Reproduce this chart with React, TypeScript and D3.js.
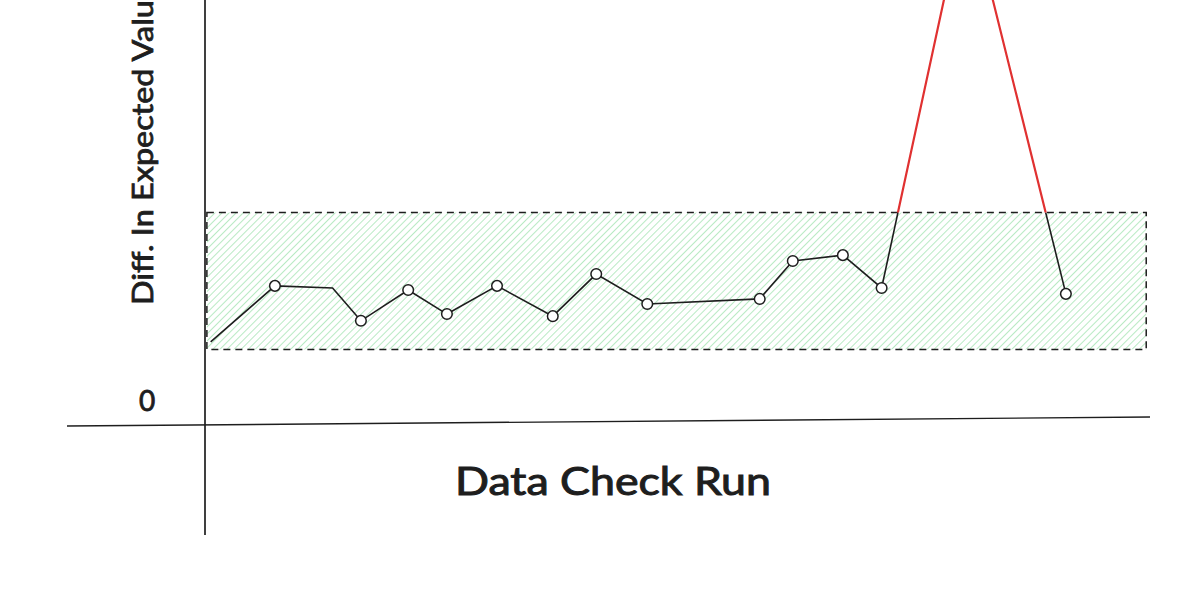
import React from "react";
import * as d3 from "d3";

// Run position (x) and difference from expected value (y) for each data check.
const runs = [0.6, 7.4, 13.5, 16.5, 21.5, 25.6, 30.9, 36.8, 41.4, 46.8, 58.7, 62.2, 67.5, 71.6, 80.6, 91.1];
const diffs = [18.8, 32.1, 31.6, 23.8, 31.1, 25.4, 32.1, 24.9, 34.9, 27.8, 29.0, 38.0, 39.4, 31.6, 125, 30.2];
// Which runs get a point marker.
const marked = [false, true, false, true, true, true, true, true, true, true, true, true, true, true, false, true];

// Expected range (tolerance band).
const bandLow = 17;
const bandHigh = 49.5;
const bandStart = 0.2;
const bandEnd = 99.6;

const yTicks = [0];
const xTitle = "Data Check Run";
const yTitle = "Diff. In Expected Value";

const W = 1200;
const H = 600;
const FONT = "Lato, 'Noto Sans', sans-serif";
const INK = "#1e1e1e";

export default function App() {
  const x = d3.scaleLinear().domain([0, 100]).range([205, 1150]);
  const y = d3.scaleLinear().domain([0, 100]).range([421, 0]);

  const pts = runs.map((r, i) => ({ r, v: diffs[i], m: marked[i] }));
  const line = d3
    .line<{ r: number; v: number }>()
    .x((d) => x(d.r))
    .y((d) => y(d.v));
  const path = line(pts) || "";

  const bandTop = y(bandHigh);
  const bandBottom = y(bandLow);

  return (
    <svg
      width={W}
      height={H}
      viewBox={`0 0 ${W} ${H}`}
      style={{ position: "absolute", left: 0, top: 0, background: "#fff" }}
    >
      <defs>
        <pattern
          id="hatch"
          patternUnits="userSpaceOnUse"
          width={5}
          height={5}
          patternTransform="rotate(45)"
        >
          <line x1={2.5} y1={0} x2={2.5} y2={5} stroke="#b9eac4" strokeWidth={1} />
        </pattern>
        <clipPath id="inside">
          <rect x={0} y={bandTop} width={W} height={H} />
        </clipPath>
        <clipPath id="outside">
          <rect x={0} y={-2000} width={W} height={2000 + bandTop} />
        </clipPath>
      </defs>

      {/* tolerance band */}
      <rect
        x={x(bandStart)}
        y={bandTop}
        width={x(bandEnd) - x(bandStart)}
        height={bandBottom - bandTop}
        fill="url(#hatch)"
        stroke={INK}
        strokeWidth={1.5}
        strokeDasharray="7 5"
      />

      {/* axes */}
      <line x1={205} y1={0} x2={205} y2={535} stroke={INK} strokeWidth={1.7} />
      <line x1={67} y1={426} x2={1150} y2={417} stroke={INK} strokeWidth={1.4} />

      {yTicks.map((t) => (
        <text
          key={t}
          x={147}
          y={y(t) - 10}
          fontFamily={FONT}
          fontSize={28}
          fill={INK}
          stroke={INK}
          strokeWidth={0.8}
          textAnchor="middle"
        >
          {t}
        </text>
      ))}

      {/* series: black inside the band, red where it breaks out */}
      <path d={path} fill="none" stroke={INK} strokeWidth={1.6} clipPath="url(#inside)" />
      <path d={path} fill="none" stroke="#e03131" strokeWidth={2.2} clipPath="url(#outside)" />

      {pts
        .filter((d) => d.m)
        .map((d, i) => (
          <circle
            key={i}
            cx={x(d.r)}
            cy={y(d.v)}
            r={5.3}
            fill="#fff"
            stroke={INK}
            strokeWidth={1.5}
          />
        ))}

      <text
        x={613}
        y={495}
        fontFamily={FONT}
        fontSize={38}
        fill={INK}
        stroke={INK}
        strokeWidth={1}
        textAnchor="middle"
        textLength={316}
        lengthAdjust="spacingAndGlyphs"
      >
        {xTitle}
      </text>

      <text
        transform="translate(153,305) rotate(-90)"
        fontFamily={FONT}
        fontSize={28}
        fill={INK}
        stroke={INK}
        strokeWidth={0.8}
        textLength={322}
        lengthAdjust="spacingAndGlyphs"
      >
        {yTitle}
      </text>
    </svg>
  );
}
